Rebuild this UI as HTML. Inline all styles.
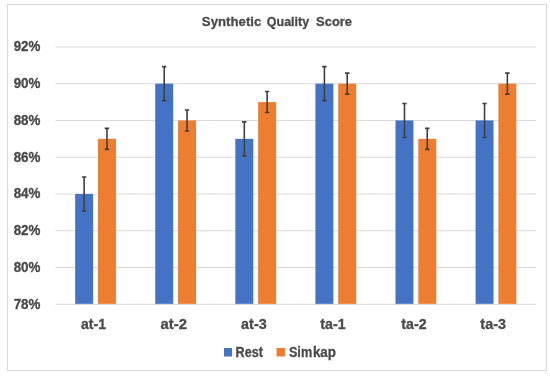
<!DOCTYPE html><html><head><meta charset="utf-8"><title>Synthetic Quality Score</title><style>html,body{margin:0;padding:0;background:#fff;}svg{display:block;}text{font-family:"Liberation Sans",Arial,sans-serif;font-weight:bold;fill:#4a4a4a;stroke:#4a4a4a;stroke-width:0.3px;font-size:14px;}</style></head><body>
<svg width="550" height="376" viewBox="0 0 550 376">
<rect x="0" y="0" width="550" height="376" fill="#fff"/>
<rect x="7.5" y="4.5" width="539" height="366" fill="none" stroke="#D9D9D9" stroke-width="1"/>
<text y="26" style="font-size:13.6px"><tspan x="201.85" textLength="59.48" lengthAdjust="spacingAndGlyphs">Synthetic</tspan> <tspan x="266.83" textLength="42.24" lengthAdjust="spacingAndGlyphs">Quality</tspan> <tspan x="316.08" textLength="35.98" lengthAdjust="spacingAndGlyphs">Score</tspan></text>
<line x1="55.5" y1="46.90" x2="536" y2="46.90" stroke="#D9D9D9" stroke-width="1"/>
<text x="13.64" y="51.30" textLength="26.76" lengthAdjust="spacingAndGlyphs">92%</text>
<line x1="55.5" y1="83.67" x2="536" y2="83.67" stroke="#D9D9D9" stroke-width="1"/>
<text x="13.64" y="88.07" textLength="26.76" lengthAdjust="spacingAndGlyphs">90%</text>
<line x1="55.5" y1="120.44" x2="536" y2="120.44" stroke="#D9D9D9" stroke-width="1"/>
<text x="13.64" y="124.84" textLength="26.76" lengthAdjust="spacingAndGlyphs">88%</text>
<line x1="55.5" y1="157.21" x2="536" y2="157.21" stroke="#D9D9D9" stroke-width="1"/>
<text x="13.64" y="161.61" textLength="26.76" lengthAdjust="spacingAndGlyphs">86%</text>
<line x1="55.5" y1="193.99" x2="536" y2="193.99" stroke="#D9D9D9" stroke-width="1"/>
<text x="13.64" y="198.39" textLength="26.76" lengthAdjust="spacingAndGlyphs">84%</text>
<line x1="55.5" y1="230.76" x2="536" y2="230.76" stroke="#D9D9D9" stroke-width="1"/>
<text x="13.64" y="235.16" textLength="26.76" lengthAdjust="spacingAndGlyphs">82%</text>
<line x1="55.5" y1="267.53" x2="536" y2="267.53" stroke="#D9D9D9" stroke-width="1"/>
<text x="13.64" y="271.93" textLength="26.76" lengthAdjust="spacingAndGlyphs">80%</text>
<text x="13.64" y="308.70" textLength="26.76" lengthAdjust="spacingAndGlyphs">78%</text>
<rect x="75.16" y="193.99" width="17.96" height="110.31" fill="#4472C4"/>
<rect x="97.97" y="138.83" width="17.96" height="165.47" fill="#ED7D31"/>
<path d="M84.14 176.99 V210.99 M81.94 176.99 H86.34 M81.94 210.99 H86.34" stroke="#404040" stroke-width="1.6" fill="none"/>
<path d="M106.95 128.33 V149.33 M104.75 128.33 H109.15 M104.75 149.33 H109.15" stroke="#404040" stroke-width="1.6" fill="none"/>
<text x="81.04" y="329" textLength="25.04" lengthAdjust="spacingAndGlyphs">at-1</text>
<rect x="155.24" y="83.67" width="17.96" height="220.63" fill="#4472C4"/>
<rect x="178.05" y="120.44" width="17.96" height="183.86" fill="#ED7D31"/>
<path d="M164.22 66.67 V100.67 M162.02 66.67 H166.42 M162.02 100.67 H166.42" stroke="#404040" stroke-width="1.6" fill="none"/>
<path d="M187.03 109.94 V130.94 M184.83 109.94 H189.23 M184.83 130.94 H189.23" stroke="#404040" stroke-width="1.6" fill="none"/>
<text x="160.55" y="329" textLength="26.4" lengthAdjust="spacingAndGlyphs">at-2</text>
<rect x="235.32" y="138.83" width="17.96" height="165.47" fill="#4472C4"/>
<rect x="258.13" y="102.06" width="17.96" height="202.24" fill="#ED7D31"/>
<path d="M244.30 121.83 V155.83 M242.10 121.83 H246.50 M242.10 155.83 H246.50" stroke="#404040" stroke-width="1.6" fill="none"/>
<path d="M267.11 91.56 V112.56 M264.91 91.56 H269.31 M264.91 112.56 H269.31" stroke="#404040" stroke-width="1.6" fill="none"/>
<text x="241.13" y="329" textLength="25.53" lengthAdjust="spacingAndGlyphs">at-3</text>
<rect x="315.41" y="83.67" width="17.96" height="220.63" fill="#4472C4"/>
<rect x="338.22" y="83.67" width="17.96" height="220.63" fill="#ED7D31"/>
<path d="M324.39 66.67 V100.67 M322.19 66.67 H326.59 M322.19 100.67 H326.59" stroke="#404040" stroke-width="1.6" fill="none"/>
<path d="M347.20 73.17 V94.17 M345.00 73.17 H349.40 M345.00 94.17 H349.40" stroke="#404040" stroke-width="1.6" fill="none"/>
<text x="320.34" y="329" textLength="25.35" lengthAdjust="spacingAndGlyphs">ta-1</text>
<rect x="395.49" y="120.44" width="17.96" height="183.86" fill="#4472C4"/>
<rect x="418.30" y="138.83" width="17.96" height="165.47" fill="#ED7D31"/>
<path d="M404.47 103.44 V137.44 M402.27 103.44 H406.67 M402.27 137.44 H406.67" stroke="#404040" stroke-width="1.6" fill="none"/>
<path d="M427.28 128.33 V149.33 M425.08 128.33 H429.48 M425.08 149.33 H429.48" stroke="#404040" stroke-width="1.6" fill="none"/>
<text x="401.38" y="329" textLength="25.21" lengthAdjust="spacingAndGlyphs">ta-2</text>
<rect x="475.57" y="120.44" width="17.96" height="183.86" fill="#4472C4"/>
<rect x="498.38" y="83.67" width="17.96" height="220.63" fill="#ED7D31"/>
<path d="M484.55 103.44 V137.44 M482.35 103.44 H486.75 M482.35 137.44 H486.75" stroke="#404040" stroke-width="1.6" fill="none"/>
<path d="M507.36 73.17 V94.17 M505.16 73.17 H509.56 M505.16 94.17 H509.56" stroke="#404040" stroke-width="1.6" fill="none"/>
<text x="480.34" y="329" textLength="25.63" lengthAdjust="spacingAndGlyphs">ta-3</text>
<line x1="55.5" y1="304.30" x2="536" y2="304.30" stroke="#D9D9D9" stroke-width="1"/>
<rect x="224" y="348" width="8" height="8.5" fill="#4472C4"/>
<text x="235.61" y="356.9" textLength="27.22" lengthAdjust="spacingAndGlyphs">Rest</text>
<rect x="276.5" y="348" width="8.5" height="8.5" fill="#ED7D31"/>
<text y="356.9"><tspan x="288.92" textLength="23.27" lengthAdjust="spacingAndGlyphs">Sim</tspan><tspan x="312.92" textLength="23.06" lengthAdjust="spacingAndGlyphs">kap</tspan></text>
</svg></body></html>
